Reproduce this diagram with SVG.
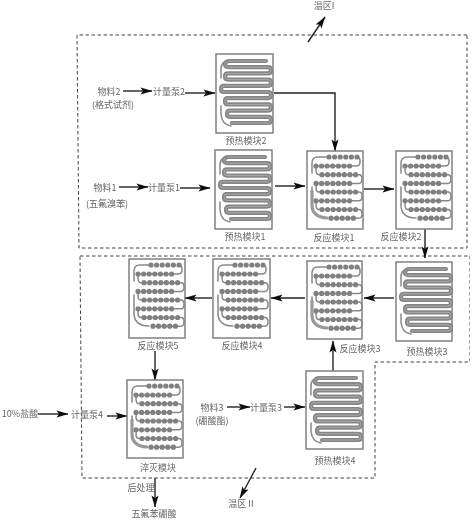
<svg xmlns="http://www.w3.org/2000/svg" width="474" height="520" viewBox="0 0 474 520">
<style>
text{font-family:"Noto Sans CJK SC","Liberation Sans",sans-serif;font-size:9px;fill:#666;text-anchor:middle}
.b{fill:none;stroke:#777;stroke-width:1.4}
.zone{fill:none;stroke:#444;stroke-width:1;stroke-dasharray:3.5 2.5}
.c{fill:none;stroke:#222;stroke-width:1.4}
.coil{fill:none;stroke:#858585;stroke-width:4.2;stroke-linecap:round;stroke-linejoin:round}
.core{fill:none;stroke:#ababab;stroke-width:1;stroke-linecap:round;stroke-linejoin:round}
.thin{fill:none;stroke:#888;stroke-width:1.5;stroke-linecap:round}
.thick{fill:none;stroke:#999;stroke-width:3.2;stroke-linecap:round}
.bead{fill:none;stroke:#808080;stroke-width:5.2;stroke-linecap:round;stroke-dasharray:0 5.6}
</style>
<defs>
<filter id="soft" x="0" y="0" width="100%" height="100%"><feGaussianBlur stdDeviation="0.35"/></filter>
<marker id="a" viewBox="0 0 12 8" refX="11.5" refY="4" markerWidth="13" markerHeight="8" markerUnits="userSpaceOnUse" orient="auto"><path d="M0 0.5L12 4L0 7.5L2.5 4Z" fill="#111"/></marker>
<path id="pc" d="M50 7H14Q9 7 9 10.500Q9 13.200 14 13.200H52Q55 13.200 55 16.500Q55 19.400 52 19.400H12Q9 19.400 9 22.500Q9 25.600 12 25.600H52Q55 25.600 55 28.700Q55 31.800 52 31.800H8Q5 31.800 5 34.900Q5 38 8 38H52Q55 38 55 41.100Q55 44.200 52 44.200H11Q9 44.200 9 47.300Q9 50.400 12 50.400H52Q55 50.400 55 53.500Q55 56.600 52 56.600H14Q11 56.600 11 59.700Q11 62.800 14 62.800H52Q55 62.800 55 65.900Q55 69 52 69H16"/>
<g id="preheat">
<use href="#pc" class="coil"/><use href="#pc" class="core"/>
<path class="thin" d="M5 24V15Q5 8 12 6.500M5 52V60Q6 71 15 72"/>
</g>
<g id="react">
<path class="thin" d="M20 6H11Q5 6 5 12V22M49 6Q53 6 53 9.500V11Q53 15 49 15H12Q9 15 9 19Q9 23.700 12 23.700H52Q55 23.700 55 28Q55 32.400 52 32.400H12Q9 32.400 9 37Q9 41 12 41H52Q55 41 55 45.500Q55 49.800 52 49.800H12Q9 49.800 9 54Q9 58.500 12 58.500H52Q55 58.500 55 62.800Q55 67.200 52 67.200H25M5 36V54Q5 67 20 67"/>
<path class="bead" d="M22 6H52M9 15H45M15 23.700H53M9 32.400H47M15 41H53M9 49.800H47M15 58.500H53M24 67.200H50"/>
</g>
<path id="arc" class="thick" d="M5 40V54Q5 66 20 67"/>
</defs>
<g filter="url(#soft)">
<g id="zones">
<path class="zone" d="M467 35H77L79 248H467V35"/>
<path class="zone" d="M80 256H470V362H375V478H82Z"/>
</g>

<g id="connectors">
<path class="c" marker-end="url(#a)" d="M123 91H152"/>
<path class="c" marker-end="url(#a)" d="M185 93H215"/>
<path class="c" marker-end="url(#a)" d="M119 187H148"/>
<path class="c" marker-end="url(#a)" d="M180 188H210"/>
<path class="c" marker-end="url(#a)" d="M275 186H305"/>
<path class="c" marker-end="url(#a)" d="M274 93H335V151"/>
<path class="c" marker-end="url(#a)" d="M364 189H394"/>
<path class="c" marker-end="url(#a)" d="M425 229V258"/>
<path class="c" marker-end="url(#a)" d="M394 298H364"/>
<path class="c" marker-end="url(#a)" d="M305 298H271"/>
<path class="c" marker-end="url(#a)" d="M212 298H185"/>
<path class="c" marker-end="url(#a)" d="M155 351V380"/>
<path class="c" marker-end="url(#a)" d="M38 414H68"/>
<path class="c" marker-end="url(#a)" d="M107 416H127"/>
<path class="c" marker-end="url(#a)" d="M227 407H250"/>
<path class="c" marker-end="url(#a)" d="M284 407H305"/>
<path class="c" marker-end="url(#a)" d="M333 371V341"/>
<path class="c" marker-end="url(#a)" d="M155 478V507"/>
<path class="c" marker-end="url(#a)" d="M256 468L240 498"/>
<path class="c" marker-end="url(#a)" d="M308 42L325 17"/>
</g>

<g id="preheat2"><rect class="b" x="216" y="54" width="57" height="79"/><use href="#preheat" x="216" y="54"/><text x="246" y="144">预热模块2</text></g>
<g id="preheat1"><rect class="b" x="215" y="150" width="57" height="79"/><use href="#preheat" x="215" y="150"/><text x="245" y="240">预热模块1</text></g>
<g id="reaction1"><rect class="b" x="307" y="151" width="56" height="78"/><use href="#react" x="307" y="151"/><use href="#arc" x="307" y="151"/><text x="334" y="241">反应模块1</text></g>
<g id="reaction2"><rect class="b" x="396" y="151" width="56" height="78"/><use href="#react" x="396" y="151"/><text x="401" y="240">反应模块2</text></g>
<g id="preheat3"><rect class="b" x="396" y="262" width="56" height="79"/><use href="#preheat" x="396" y="262"/><text x="427" y="355">预热模块3</text></g>
<g id="reaction3"><rect class="b" x="307" y="261" width="55" height="78"/><use href="#react" x="307" y="261"/><use href="#arc" x="307" y="261"/><text x="360" y="352">反应模块3</text></g>
<g id="reaction4"><rect class="b" x="213" y="259" width="57" height="79"/><use href="#react" x="213" y="259"/><text x="242" y="349">反应模块4</text></g>
<g id="reaction5"><rect class="b" x="129" y="259" width="56" height="79"/><use href="#react" x="129" y="259"/><text x="158" y="349">反应模块5</text></g>
<g id="quench"><rect class="b" x="127" y="380" width="56" height="78"/><use href="#react" x="127" y="380"/><use href="#arc" x="127" y="380"/><text x="158" y="471">淬灭模块</text></g>
<g id="preheat4"><rect class="b" x="306" y="371" width="57" height="78"/><use href="#preheat" x="306" y="371"/><text x="335" y="464">预热模块4</text></g>

<g id="material2"><text x="109" y="95">物料2</text><text x="113" y="108">(格式试剂)</text></g>
<g id="pump2"><text x="169" y="95">计量泵2</text></g>
<g id="material1"><text x="105" y="191">物料1</text><text x="107" y="207">(五氟溴苯)</text></g>
<g id="pump1"><text x="164" y="191">计量泵1</text></g>
<g id="acid"><text x="20" y="417">10%盐酸</text></g>
<g id="pump4"><text x="87" y="418">计量泵4</text></g>
<g id="material3"><text x="212" y="411">物料3</text><text x="212" y="424">(硼酸酯)</text></g>
<g id="pump3"><text x="266" y="411">计量泵3</text></g>
<g id="post"><text x="141" y="491">后处理</text></g>
<g id="product"><text x="154" y="517">五氟苯硼酸</text></g>
<g id="zone1label"><text x="324" y="9">温区I</text></g>
<g id="zone2label"><text x="241" y="507">温区 II</text></g>
</g>
</svg>
